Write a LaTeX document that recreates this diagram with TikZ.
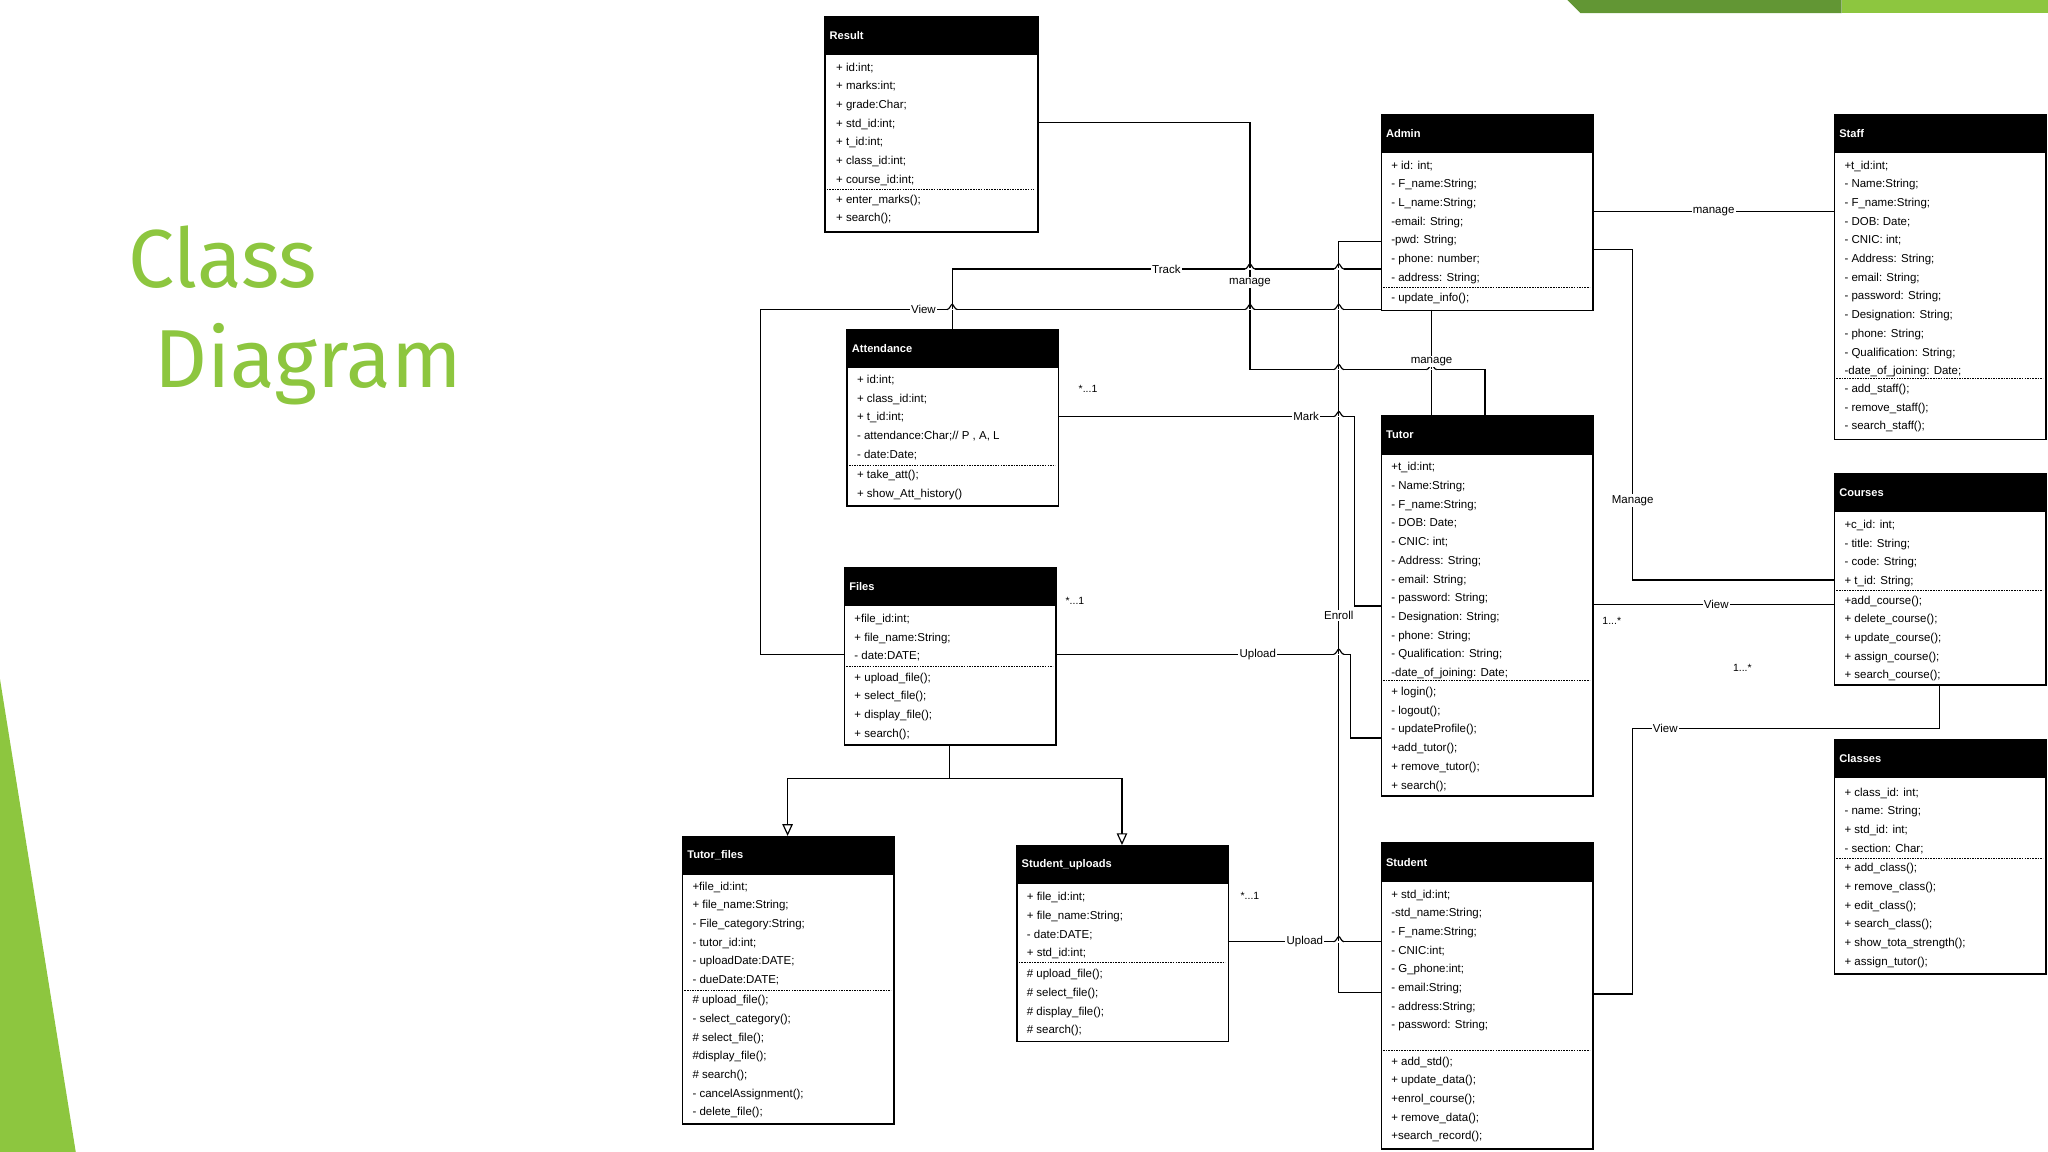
\documentclass[tikz,border=0pt]{standalone}
\usepackage{fontspec}
\setmainfont{Liberation Sans}
\newfontfamily\titlefont{Fira Sans}
\usetikzlibrary{arrows.meta}
\definecolor{lgreen}{RGB}{141,198,63}
\definecolor{dgreen}{RGB}{98,150,52}
\tikzset{
  x=1pt,y=-1pt,
  box/.style={draw,line width=1.1pt,inner sep=0pt,anchor=north west},
  hdr/.style={text=white,font=\fontsize{8.5}{10}\selectfont\bfseries,anchor=west,inner sep=0pt},
  txt/.style={font=\fontsize{8.8}{14.3}\selectfont,align=left,anchor=north west,inner sep=0pt},
  conn/.style={line width=0.9pt},
  lbl/.style={fill=white,inner sep=1pt,font=\fontsize{8.8}{10}\selectfont},
  mult/.style={inner sep=0pt,font=\fontsize{8}{10}\selectfont},
  dsh/.style={dashed,dash pattern=on 1.2pt off 0.8pt,line width=0.7pt},
  inh/.style={conn,-{Triangle[open,length=9pt,width=8pt]}}
}
\newcommand\umlbox[6]{%
  \node[box,minimum width=#4pt,minimum height=#5pt] (#1) at (#2,#3) {};
  \fill (#2,#3) rectangle ++(#4,30);
  \node[hdr] (#1h) at (#2+4,#3+15) {#6};}
\newcommand\memb[4]{\node[txt] (#1) at (#2,#3-3) {#4};}
\newcommand\dline[3]{\draw[dsh] (#1+2,#3) -- (#2-2,#3);}
\newcommand\hop[2]{\fill[white] (#1-4,#2-0.6) rectangle (#1+4,#2+0.6);
  \draw[conn] (#1-4,#2) .. controls (#1-2,#2) and (#1-1,#2-4) .. (#1,#2-4) .. controls (#1+1,#2-4) and (#1+2,#2) .. (#1+4,#2);}
\begin{document}
\begin{tikzpicture}
\useasboundingbox (0,0) rectangle (1568,882);
% decorations
\fill[lgreen] (0,520) -- (58,882) -- (0,882) -- cycle;
\fill[dgreen] (1200,0) -- (1410,0) -- (1410,10) -- (1210,10) -- cycle;
\fill[lgreen] (1410,0) -- (1568,0) -- (1568,10) -- (1410,10) -- cycle;
\node[anchor=base west,inner sep=0pt,text=lgreen,font=\titlefont\fontsize{63}{63}\selectfont] (t1) at (98,220) {Class};
\node[anchor=base west,inner sep=0pt,text=lgreen,font=\titlefont\fontsize{63}{63}\selectfont] (t2) at (118,297) {Diagram};

% connectors
\draw[conn] (794,94) -- (957,94) -- (957,283) -- (1137,283) -- (1137,318);
\draw[conn] (1096,237) -- (1096,318);
\draw[conn] (729,252) -- (729,206) -- (1057,206);
\draw[conn] (646,501) -- (582,501) -- (582,237) -- (1057,237);
\draw[conn] (1057,185) -- (1025,185) -- (1025,760) -- (1057,760);
\draw[conn] (810,319) -- (1037,319) -- (1037,464) -- (1057,464);
\draw[conn] (808,501) -- (1034,501) -- (1034,565) -- (1057,565);
\draw[conn] (940,721) -- (1057,721);
\draw[conn] (1219,162) -- (1404,162);
\draw[conn] (1219,191) -- (1250,191) -- (1250,444) -- (1404,444);
\draw[conn] (1219,463) -- (1404,463);
\draw[conn] (1485,524) -- (1485,558) -- (1250,558) -- (1250,761) -- (1219,761);
\draw[conn] (727,570) -- (727,596);
\draw[inh] (727,596) -- (603,596) -- (603,640);
\draw[inh] (727,596) -- (859,596) -- (859,647);
\hop{957}{206}\hop{1025}{206}\hop{729}{237}\hop{957}{237}\hop{1025}{237}
\hop{1025}{283}\hop{1096}{283}\hop{1025}{319}\hop{1025}{501}\hop{1025}{721}
\node[lbl] (l1) at (893,206) {Track};
\node[lbl] (l2) at (957,216) {manage};
\node[lbl] (l3) at (707,237) {View};
\node[lbl] (l4) at (1096,277) {manage};
\node[lbl] (l5) at (1000,319) {Mark};
\node[lbl] (l6) at (1025,471) {Enroll};
\node[lbl] (l7) at (963,501) {Upload};
\node[lbl] (l8) at (999,721) {Upload};
\node[lbl] (l9) at (1312,162) {manage};
\node[lbl] (l10) at (1250,383) {Manage};
\node[lbl] (l11) at (1314,463) {View};
\node[lbl] (l12) at (1275,558) {View};
\node[mult] (m1) at (833,298) {*...1};
\node[mult] (m2) at (823,460) {*...1};
\node[mult] (m3) at (957,686) {*...1};
\node[mult] (m4) at (1234,475) {1...*};
\node[mult] (m5) at (1334,511) {1...*};

% Result
\umlbox{result}{631}{12}{163}{165}{Result}
\memb{ra}{640}{51}{+ id:int;\\+ marks:int;\\+ grade:Char;\\+ std\_id:int;\\+ t\_id:int;\\+ class\_id:int;\\+ course\_id:int;}
\dline{631}{794}{145}
\memb{rm}{640}{152}{+ enter\_marks();\\+ search();}
% Admin
\umlbox{admin}{1057}{87}{162}{150}{Admin}
\memb{aa}{1065}{126}{+ id: int;\\- F\_name:String;\\- L\_name:String;\\-email: String;\\-pwd: String;\\- phone: number;\\- address: String;}
\dline{1057}{1219}{220}
\memb{am}{1065}{227}{- update\_info();}
% Staff
\umlbox{staff}{1404}{87}{162}{249}{Staff}
\memb{sa}{1412}{126}{+t\_id:int;\\- Name:String;\\- F\_name:String;\\- DOB: Date;\\- CNIC: int;\\- Address: String;\\- email: String;\\- password: String;\\- Designation: String;\\- phone: String;\\- Qualification: String;\\-date\_of\_joining: Date;}
\dline{1404}{1566}{290}
\memb{sm}{1412}{297}{- add\_staff();\\- remove\_staff();\\- search\_staff();}
% Attendance
\umlbox{att}{648}{252}{162}{135}{Attendance}
\memb{ata}{656}{290}{+ id:int;\\+ class\_id:int;\\+ t\_id:int;\\- attendance:Char;// P , A, L\\- date:Date;}
\dline{648}{810}{356}
\memb{atm}{656}{363}{+ take\_att();\\+ show\_Att\_history()}
% Tutor
\umlbox{tutor}{1057}{318}{162}{291}{Tutor}
\memb{ta}{1065}{357}{+t\_id:int;\\- Name:String;\\- F\_name:String;\\- DOB: Date;\\- CNIC: int;\\- Address: String;\\- email: String;\\- password: String;\\- Designation: String;\\- phone: String;\\- Qualification: String;\\-date\_of\_joining: Date;}
\dline{1057}{1219}{521}
\memb{tm}{1065}{529}{+ login();\\- logout();\\- updateProfile();\\+add\_tutor();\\+ remove\_tutor();\\+ search();}
% Courses
\umlbox{courses}{1404}{362}{162}{162}{Courses}
\memb{ca}{1412}{401}{+c\_id: int;\\- title: String;\\- code: String;\\+ t\_id: String;}
\dline{1404}{1566}{452}
\memb{cm}{1412}{459}{+add\_course();\\+ delete\_course();\\+ update\_course();\\+ assign\_course();\\+ search\_course();}
% Classes
\umlbox{classes}{1404}{566}{162}{179}{Classes}
\memb{cla}{1412}{606}{+ class\_id: int;\\- name: String;\\+ std\_id: int;\\- section: Char;}
\dline{1404}{1566}{657}
\memb{clm}{1412}{664}{+ add\_class();\\+ remove\_class();\\+ edit\_class();\\+ search\_class();\\+ show\_tota\_strength();\\+ assign\_tutor();}
% Files
\umlbox{files}{646}{434}{162}{136}{Files}
\memb{fa}{654}{473}{+file\_id:int;\\+ file\_name:String;\\- date:DATE;}
\dline{646}{808}{510}
\memb{fm}{654}{518}{+ upload\_file();\\+ select\_file();\\+ display\_file();\\+ search();}
% Tutor_files
\umlbox{tf}{522}{640}{162}{220}{Tutor\_files}
\memb{tfa}{530}{678}{+file\_id:int;\\+ file\_name:String;\\- File\_category:String;\\- tutor\_id:int;\\- uploadDate:DATE;\\- dueDate:DATE;}
\dline{522}{684}{758}
\memb{tfm}{530}{765}{\# upload\_file();\\- select\_category();\\\# select\_file();\\\#display\_file();\\\# search();\\- cancelAssignment();\\- delete\_file();}
% Student_uploads
\umlbox{su}{778}{647}{162}{150}{Student\_uploads}
\memb{sua}{786}{686}{+ file\_id:int;\\+ file\_name:String;\\- date:DATE;\\+ std\_id:int;}
\dline{778}{940}{737}
\memb{sum}{786}{745}{\# upload\_file();\\\# select\_file();\\\# display\_file();\\\# search();}
% Student
\umlbox{student}{1057}{645}{162}{234}{Student}
\memb{sta}{1065}{684}{+ std\_id:int;\\-std\_name:String;\\- F\_name:String;\\- CNIC:int;\\- G\_phone:int;\\- email:String;\\- address:String;\\- password: String;}
\dline{1057}{1219}{804}
\memb{stm}{1065}{812}{+ add\_std();\\+ update\_data();\\+enrol\_course();\\+ remove\_data();\\+search\_record();}
\end{tikzpicture}
\end{document}
